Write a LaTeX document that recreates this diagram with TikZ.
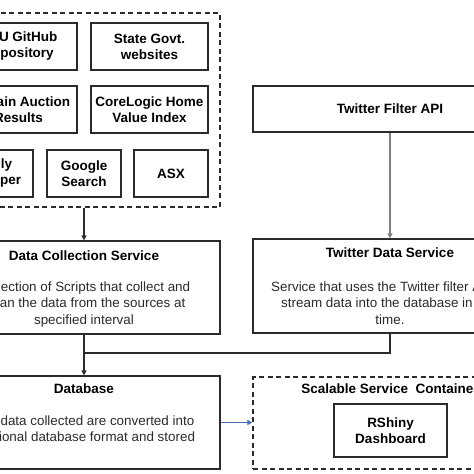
\documentclass[tikz,border=0pt]{standalone}
\usepackage{fontspec}
\setmainfont{Liberation Sans}
\usetikzlibrary{positioning,calc,arrows.meta}
\definecolor{edge}{HTML}{2B2B2B}
\definecolor{flow}{HTML}{4A6DB0}
\tikzset{
  box/.style={draw=edge, line width=1.2pt, align=center, inner sep=0pt, font=\bfseries\fontsize{13.5}{16}\selectfont},
  group/.style={draw=edge, line width=1.2pt, dash pattern=on 5pt off 3.5pt, inner sep=0pt},
  ttl/.style={font=\bfseries\fontsize{13.5}{16}\selectfont, inner sep=0pt},
  txt/.style={font=\fontsize{13.4}{16.5}\selectfont, align=center, inner sep=0pt, text=edge},
  tip/.style={-{Triangle[length=5pt,width=5pt]}, line width=1.1pt, draw=edge}
}
\begin{document}
\begin{tikzpicture}[x=1pt,y=-1pt]
        \clip (0,0) rectangle (474,474);
        \fill[white] (0,0) rectangle (474,474);

        \node[group, minimum width=280pt, minimum height=194pt] (sources) at (80,110) {};
        \node[box, minimum width=117pt, minimum height=47pt] (github) at (18.5,46.5) {ANU GitHub\\Repository};
        \node[box, minimum width=117pt, minimum height=47pt] (govt) at (149.5,46.5) {State Govt.\\websites};
        \node[box, minimum width=117pt, minimum height=47pt] (auction) at (18.5,109.5) {Domain Auction\\Results};
        \node[box, minimum width=117pt, minimum height=47pt] (corelogic) at (149.5,109.5) {CoreLogic Home\\Value Index};
        \node[box, minimum width=74pt, minimum height=47pt] (scraper) at (-4,173.5) {Daily\\Scraper};
        \node[box, minimum width=74pt, minimum height=47pt] (google) at (84,173.5) {Google\\Search};
        \node[box, minimum width=74pt, minimum height=47pt] (asx) at (171,173.5) {ASX};

        \node[box, minimum width=272pt, minimum height=93pt] (collect) at (84,287.5) {};
        \node[ttl] (collecttitle) at ([yshift=-15pt]collect.north) {Data Collection Service};
        \node[txt, anchor=north] (collectbody) at ([yshift=-41pt]collect.north) {Collection of Scripts that collect and\\clean the data from the sources at\\specified interval};

        \node[box, minimum width=274pt, minimum height=46pt] (filter) at (390,109) {Twitter Filter API};
        \node[box, minimum width=274pt, minimum height=94pt] (twitter) at (390,286) {};
        \node[ttl] (twittertitle) at ([yshift=-14pt]twitter.north) {Twitter Data Service};
        \node[txt, anchor=north] (twitterbody) at ([yshift=-43pt]twitter.north) {Service that uses the Twitter filter API to\\stream data into the database in real\\time.};

        \node[box, minimum width=272pt, minimum height=93pt] (db) at (84,422.5) {};
        \node[ttl] (dbtitle) at ([yshift=-13pt]db.north) {Database};
        \node[txt, anchor=north] (dbbody) at ([yshift=-40pt]db.north) {The data collected are converted into\\relational database format and stored};

        \node[group, minimum width=274pt, minimum height=92pt] (scalable) at (390,423) {};
        \node[ttl] (scalabletitle) at ([yshift=-12pt]scalable.north) {Scalable Service~ Container};
        \node[box, minimum width=113pt, minimum height=53pt] (shiny) at (390.5,430.5) {RShiny\\Dashboard};

        \coordinate (merge) at ($(collect.south)!0.45!(db.north)$);
        \draw[tip] (sources.south -| collect.north) -- (collect.north);
        \draw[tip, draw=edge!60] (filter.south) -- (twitter.north);
        \draw[tip] (collect.south) -- (db.north);
        \draw[line width=1.1pt, draw=edge] (twitter.south) |- (merge);
        \draw[-{Triangle[length=5pt,width=5pt]}, line width=0.8pt, draw=flow, fill=flow] (db.east) -- (db.east -| scalable.west);
\end{tikzpicture}
\end{document}
